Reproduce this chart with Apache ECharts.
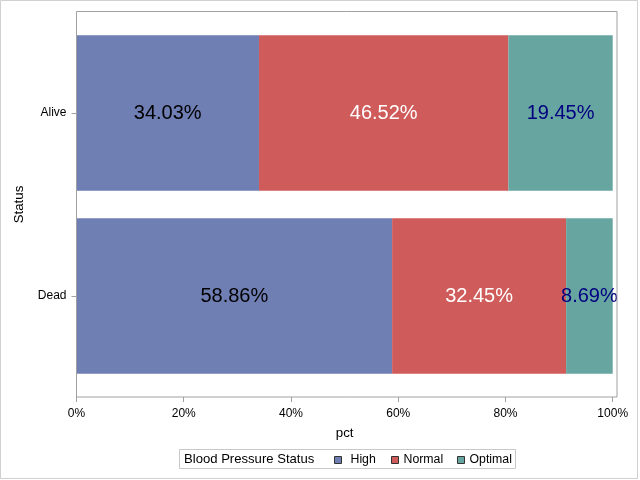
<!DOCTYPE html>
<html><head><meta charset="utf-8">
<script src="https://cdn.jsdelivr.net/npm/echarts@6/dist/echarts.min.js"></script>
<style>html,body{margin:0;padding:0;background:#fff}#c{width:640px;height:480px}</style>
</head><body><div id="c"></div>
<script>
var categories = ['Alive', 'Dead'];
var seriesNames = ['High', 'Normal', 'Optimal'];
var highPct = [34.03, 58.86];
var normalPct = [46.52, 32.45];
var optimalPct = [19.45, 8.69];
var xTicks = [0, 20, 40, 60, 80, 100];

var colors = ['#6F7EB3', '#D05B5B', '#66A5A0'];
var labelColors = ['#000000', '#ffffff', '#000080'];
var values = [highPct, normalPct, optimalPct];
var FONT = 'Liberation Sans';
var legendLefts = [334, 391, 457];
var legendTextPad = [4, 0, 0];

var chart = echarts.init(document.getElementById('c'), null, {renderer: 'canvas'});
var series = seriesNames.map(function (n, i) {
  return {
    name: n, type: 'bar', stack: 'total', barWidth: '85%',
    data: values[i],
    itemStyle: {color: colors[i]},
    label: {
      show: true, position: 'inside', fontFamily: FONT, fontSize: 20,
      color: labelColors[i],
      formatter: function (p) { return p.value.toFixed(2) + '%'; }
    },
    emphasis: {disabled: true}
  };
});

var legends = seriesNames.map(function (n, i) {
  return {
    data: [n], left: legendLefts[i], top: 454, padding: 0,
    itemWidth: 7, itemHeight: 7,
    icon: 'rect', selectedMode: false,
    itemStyle: {borderColor: '#333', borderWidth: 1},
    textStyle: {fontFamily: FONT, fontSize: 12.3, color: '#000', padding: [0, 0, 0, legendTextPad[i]]}
  };
});

chart.setOption({
  animation: false,
  textStyle: {fontFamily: FONT},
  grid: {left: 76.5, right: 27.3, top: 21.5, bottom: 92.5, containLabel: false},
  xAxis: {
    type: 'value', min: 0, max: 100, interval: 20, offset: 9.5,
    name: 'pct', nameLocation: 'middle', nameGap: 29.5,
    nameTextStyle: {fontFamily: FONT, fontSize: 13.3, color: '#000'},
    axisLine: {show: false},
    axisTick: {show: true, length: 5, lineStyle: {color: '#a0a0a0'}},
    axisLabel: {fontFamily: FONT, fontSize: 12, color: '#000', margin: 11,
      formatter: function (v) { return xTicks.indexOf(v) >= 0 ? v + '%' : ''; }},
    splitLine: {show: false}
  },
  yAxis: {
    type: 'category', data: categories, inverse: true,
    name: 'Status', nameLocation: 'middle', nameGap: 51,
    nameTextStyle: {fontFamily: FONT, fontSize: 13.3, color: '#000'},
    axisLine: {show: false},
    axisTick: {show: true, length: 5, alignWithLabel: true, lineStyle: {color: '#a0a0a0'}},
    axisLabel: {fontFamily: FONT, fontSize: 12, color: '#000', margin: 10}
  },
  legend: legends,
  graphic: [
    {type: 'rect', silent: true, z: -10,
      shape: {x: 0.5, y: 0.5, width: 637, height: 478},
      style: {fill: '#fff', stroke: '#d0d0d0', lineWidth: 1}},
    {type: 'rect', silent: true, z: 10,
      shape: {x: 76.5, y: 11.5, width: 540.5, height: 385.5},
      style: {fill: 'none', stroke: '#a0a0a0', lineWidth: 1}},
    {type: 'rect', silent: true, z: 1,
      shape: {x: 179.5, y: 449.5, width: 336, height: 19},
      style: {fill: '#fff', stroke: '#c8c8c8', lineWidth: 1}},
    {type: 'text', silent: true, z: 2, x: 184, y: 459,
      style: {text: 'Blood Pressure Status', fontFamily: FONT, fontSize: 13.1, fill: '#000', verticalAlign: 'middle'}}
  ],
  series: series
});
</script></body></html>
